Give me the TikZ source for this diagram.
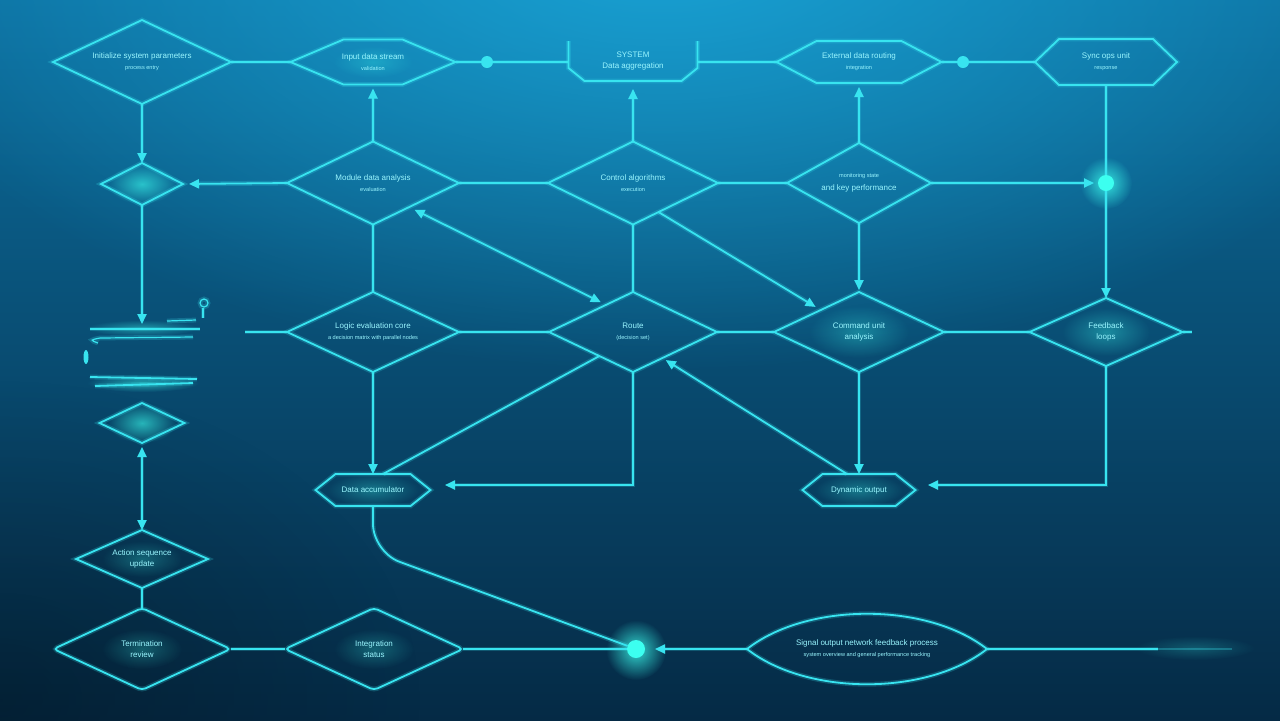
\documentclass[tikz,border=0pt]{standalone}
\usepackage{fontspec}
\setmainfont{Liberation Sans}
\usetikzlibrary{shapes.geometric,arrows.meta,calc,fadings}
\definecolor{lc}{HTML}{38E4F0}
\definecolor{tc}{HTML}{9AF6FF}
\definecolor{gc}{HTML}{3CFFF0}
\definecolor{bgtop}{HTML}{0C6E9E}
\definecolor{bgbot}{HTML}{052A45}
\definecolor{bglight}{HTML}{1AA6D8}
\tikzfading[name=glowfade, inner color=transparent!0, outer color=transparent!100]
\newcommand{\lbA}{\fontsize{4}{4.8}\selectfont}
\newcommand{\lbB}{\fontsize{2.8}{3.4}\selectfont}
\newcommand{\hexdraw}[2]{\draw[ln] (#1.west) -- ([xshift=#2]#1.north west) -- ([xshift=-#2]#1.north east) -- (#1.east) -- ([xshift=-#2]#1.south east) -- ([xshift=#2]#1.south west) -- cycle;}
\newcommand{\glowat}[4][0.35]{\fill[gc, path fading=glowfade, opacity=#1] (#2) ellipse [x radius=#3, y radius=#4];}
\begin{document}
\begin{tikzpicture}[x=0.5pt,y=-0.5pt,
  ln/.style={draw=lc, line width=0.9pt, preaction={draw=lc, line width=2.4pt, opacity=0.22}},
  dia/.style={diamond, shape aspect=2.2, ln, inner sep=0pt, outer sep=0pt, align=center, text=tc, font=\lbA},
  hexn/.style={rectangle, inner sep=0pt, outer sep=0pt, align=center, text=tc, font=\lbA},
  arr/.style={-{Triangle[length=5pt,width=4.5pt]}},
  arrb/.style={{Triangle[length=5pt,width=4.5pt]}-{Triangle[length=5pt,width=4.5pt]}},
  dotn/.style={circle, fill=lc, inner sep=0pt, outer sep=0pt, minimum size=6pt}
]
\useasboundingbox (0,0) rectangle (1280,720);
% background
\shade[top color=bgtop, bottom color=bgbot] (0,0) rectangle (1280,720);
\fill[bglight, path fading=glowfade, opacity=0.95] (660,-60) ellipse [x radius=820, y radius=430];
\fill[black, path fading=glowfade, opacity=0.25] (0,700) ellipse [x radius=420, y radius=320];

% glows
\glowat[0.6]{142,184}{34}{20}
\glowat[0.6]{142,423}{34}{20}
\glowat[0.8]{1106,183}{26}{26}
\glowat[0.8]{636,650}{30}{30}
\glowat[0.3]{859,332}{50}{26}
\glowat[0.35]{1106,332}{44}{24}
\glowat[0.3]{373,490}{46}{16}
\glowat[0.3]{859,490}{44}{16}
\glowat[0.25]{142,559}{40}{18}
\glowat[0.25]{142,649}{40}{20}
\glowat[0.25]{374,649}{40}{20}
\glowat[0.25]{373,62}{40}{16}
\glowat[0.5]{143,383}{56}{9}
\glowat[0.4]{142,328}{56}{8}
\glowat[0.2]{1195,648}{60}{12}

% row 1
\node[dia, minimum width=89pt, minimum height=42pt] (D1) at (142,62) {Initialize system parameters\\[0.8pt]{\lbB process entry}};
\node[hexn, minimum width=82.5pt, minimum height=22.5pt] (H1) at (373,62) {Input data stream\\[0.8pt]{\lbB validation}};
\hexdraw{H1}{26.5pt}
\node[dotn] (p1) at (487,62) {};
\node[hexn, minimum width=64.5pt, minimum height=20pt] (B1) at (633,61) {SYSTEM\\[0.8pt]Data aggregation};
\draw[ln] (B1.north west) -- ($(B1.south west)+(0,-13)$) -- ($(B1.south west)+(16,0)$) -- ($(B1.south east)+(-16,0)$) -- ($(B1.south east)+(0,-13)$) -- (B1.north east);
\coordinate (B1l) at (569,62);
\coordinate (B1r) at (697,62);
\node[hexn, minimum width=82.5pt, minimum height=21pt] (H2) at (859,62) {External data routing\\[0.8pt]{\lbB integration}};
\hexdraw{H2}{20pt}
\node[dotn] (p2) at (963,62) {};
\node[hexn, minimum width=71pt, minimum height=23pt] (H3) at (1106,62) {Sync ops unit\\[0.8pt]{\lbB response}};
\hexdraw{H3}{12pt}

% row 2
\node[dia, minimum width=41pt, minimum height=21pt] (D2) at (142,184) {};
\node[dia, minimum width=86pt, minimum height=41.5pt] (D3) at (373,183) {Module data analysis\\[0.8pt]{\lbB evaluation}};
\node[dia, minimum width=85pt, minimum height=41.5pt] (D4) at (633,183) {Control algorithms\\[0.8pt]{\lbB execution}};
\node[dia, minimum width=72pt, minimum height=40pt] (D5) at (859,183) {{\lbB monitoring state}\\[1.5pt]and key performance};
\node[dotn, minimum size=8pt, fill=gc] (G2) at (1106,183) {};

% row 3
\node[dia, minimum width=86pt, minimum height=40pt] (D6) at (373,332) {Logic evaluation core\\[0.8pt]{\lbB a decision matrix with parallel nodes}};
\node[dia, minimum width=84pt, minimum height=40pt] (D7) at (633,332) {Route\\[0.8pt]{\lbB (decision set)}};
\node[dia, minimum width=85pt, minimum height=40pt] (D8) at (859,332) {Command unit\\[0.8pt]analysis};
\node[dia, minimum width=76.5pt, minimum height=34pt] (D9) at (1106,332) {Feedback\\[0.8pt]loops};
\coordinate (stubL) at (245,332);
\coordinate (stubR) at (1192,332);
\coordinate (L1) at (142,324);

% row 4
\node[hexn, minimum width=57.5pt, minimum height=16pt] (H4) at (373,490) {Data accumulator};
\hexdraw{H4}{10pt}
\node[hexn, minimum width=56.5pt, minimum height=16pt] (H5) at (859,490) {Dynamic output};
\hexdraw{H5}{10pt}
\coordinate (c1) at (445,485);
\coordinate (c2) at (928,485);

% left column lower
\node[dia, minimum width=42.5pt, minimum height=20pt] (D10) at (142,423) {};
\node[dia, minimum width=66pt, minimum height=29pt] (D11) at (142,559) {Action sequence\\[0.5pt]update};
\node[dia, rounded corners=2pt, minimum width=88.5pt, minimum height=41pt] (D12) at (142,649) {Termination\\[0.8pt]review};
\node[dia, rounded corners=2pt, minimum width=89pt, minimum height=41pt] (D13) at (374,649) {Integration\\[0.8pt]status};
\node[dotn, minimum size=9pt, fill=gc] (G3) at (636,649) {};
\node[hexn, minimum width=120pt, minimum height=10pt] (E1) at (867,649) {Signal output network feedback process\\[0.8pt]{\lbB system overview and general performance tracking}};
\draw[ln] (E1.west) .. controls ($(E1.west)+(60,-47)$) and ($(E1.east)+(-60,-47)$) .. (E1.east) .. controls ($(E1.east)+(-60,47)$) and ($(E1.west)+(60,47)$) .. (E1.west);
\coordinate (bend1) at (373,552);
\coordinate (tailE) at (1158,649);
\coordinate (tailF) at (1232,649);

% connectors
\draw[ln] (D1.east) -- (H1.west);
\draw[ln] (H1.east) -- (p1) -- (B1l);
\draw[ln] (B1r) -- (H2.west);
\draw[ln] (H2.east) -- (p2) -- (H3.west);
\draw[ln,arr] (D1.south) -- (D2.north);
\draw[ln,arr,shorten >=3pt] (D3.west) -- (D2.east);
\draw[ln] (D3.east) -- (D4.west);
\draw[ln] (D4.east) -- (D5.west);
\draw[ln,arr,shorten >=2pt] (D5.east) -- (G2);
\draw[ln,arr,shorten >=2pt] (D3.north) -- (H1.south);
\draw[ln,arr,shorten >=4pt] (D4.north) -- (B1.south);
\draw[ln,arr,shorten >=2pt] (D5.north) -- (H2.south);
\draw[ln] (H3.south) -- (G2);
\draw[ln,arr] (G2) -- (D9.north);
\draw[ln] (D3.south) -- (D6.north);
\draw[ln] (D4.south) -- (D7.north);
\draw[ln,arr,shorten >=1pt] (D5.south) -- (D8.north);
\draw[ln,arrb,shorten <=3pt,shorten >=3pt] ($(D3.south)!0.42!(D3.east)$) -- ($(D7.north)!0.32!(D7.west)$);
\draw[ln,arr,shorten >=3pt] ($(D4.south)!0.3!(D4.east)$) -- ($(D8.north)!0.45!(D8.west)$);
\draw[ln,arr] (D2.south) -- (L1);
\draw[ln] (stubL) -- (D6.west);
\draw[ln] (D6.east) -- (D7.west);
\draw[ln] (D7.east) -- (D8.west);
\draw[ln] (D8.east) -- (D9.west);
\draw[ln] (D9.east) -- (stubR);
\draw[ln,arr] (D6.south) -- (H4.north);
\draw[ln] ($(D7.south)!0.4!(D7.west)$) -- ($(H4.north)+(10,0)$);
\draw[ln,arr] (D7.south) |- (c1);
\draw[ln,arr] (D8.south) -- (H5.north);
\draw[ln,{Triangle[length=5pt,width=4.5pt]}-,shorten <=2pt] ($(D7.south)!0.35!(D7.east)$) -- ($(H5.north)+(-12,0)$);
\draw[ln,arr] (D9.south) |- (c2);
\draw[ln,arrb,shorten <=2pt] (D10.south) -- (D11.north);
\draw[ln] (D11.south) -- (D12.north);
\draw[ln] (D12.east) -- (D13.west);
\draw[ln] (D13.east) -- (G3);
\draw[ln, rounded corners=14pt] (H4.south) -- (bend1) -- (G3);
\draw[ln,arr,shorten >=5pt] (E1.west) -- (G3);
\draw[ln] (E1.east) -- (tailE);
\draw[lc, line width=0.8pt, opacity=0.3] (tailE) -- (tailF);

% left scribble element
\draw[ln] (90,329) -- (200,329);
\draw[ln, line width=0.6pt] (167,321) -- (196,320);
\draw[ln, line width=0.6pt] (203,308) -- (203,318);
\draw[ln, line width=0.6pt] (204,303) circle [radius=4];
\draw[ln, line width=0.6pt] (98,343) .. controls (90,340) .. (100,338) -- (193,337);
\fill[lc] (86,357) ellipse [x radius=2.5, y radius=7];
\draw[ln] (90,377) -- (197,379);
\draw[ln] (95,386) -- (193,383);
\end{tikzpicture}
\end{document}
